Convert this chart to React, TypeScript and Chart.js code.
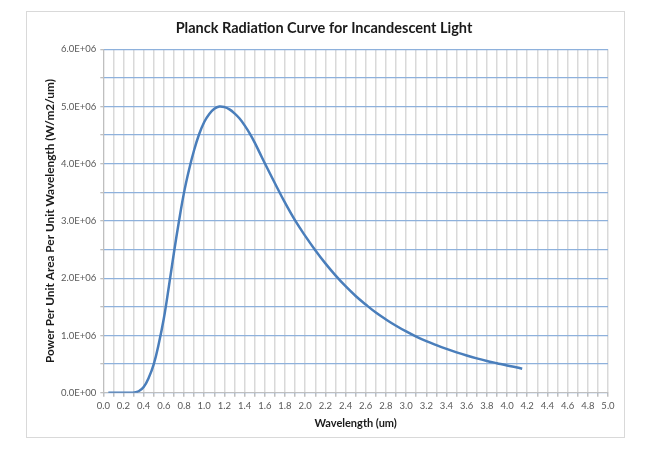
import React, { useEffect, useRef } from "react";
import { Chart, registerables } from "chart.js";

Chart.register(...registerables);

const TITLE = "Planck Radiation Curve for Incandescent Light";
const X_TITLE = "Wavelength (um)";
const Y_TITLE = "Power Per Unit Area Per Unit Wavelength (W/m2/um)";

const wavelengths = [
  0.05, 0.1, 0.15, 0.2, 0.25, 0.3, 0.35, 0.4, 0.45, 0.5, 0.55, 0.6, 0.65, 0.7, 0.75, 0.8, 0.85, 0.9, 0.95, 1.0,
  1.05, 1.1, 1.15, 1.2, 1.25, 1.3, 1.35, 1.4, 1.45, 1.5, 1.55, 1.6, 1.7, 1.8, 1.9, 2.0, 2.1, 2.2, 2.3, 2.4, 2.5,
  2.6, 2.7, 2.8, 2.9, 3.0, 3.1, 3.2, 3.3, 3.4, 3.5, 3.6, 3.7, 3.8, 3.9, 4.0, 4.1, 4.15,
];
const power = [
  0, 0, 0, 0, 0, 0.003e6, 0.025e6, 0.1e6, 0.26e6, 0.5e6, 0.86e6, 1.3e6, 1.86e6, 2.45e6, 3.0e6, 3.5e6, 3.9e6,
  4.24e6, 4.52e6, 4.73e6, 4.87e6, 4.96e6, 5.0e6, 4.99e6, 4.95e6, 4.88e6, 4.79e6, 4.67e6, 4.53e6, 4.37e6, 4.19e6,
  4.01e6, 3.66e6, 3.32e6, 3.01e6, 2.74e6, 2.49e6, 2.26e6, 2.05e6, 1.86e6, 1.69e6, 1.54e6, 1.4e6, 1.28e6, 1.17e6,
  1.07e6, 0.98e6, 0.9e6, 0.83e6, 0.765e6, 0.705e6, 0.65e6, 0.6e6, 0.555e6, 0.515e6, 0.475e6, 0.44e6, 0.42e6,
];

const X_MIN = 0;
const X_MAX = 5;
const X_STEP = 0.1;
const Y_MIN = 0;
const Y_MAX = 6e6;
const Y_STEP = 0.5e6;

const FONT = "Lato, 'Liberation Sans', sans-serif";

function sci(v: number): string {
  if (v === 0) return "0.0E+00";
  const e = Math.floor(Math.log10(Math.abs(v)));
  const m = v / Math.pow(10, e);
  const es = (e < 0 ? "-" : "+") + String(Math.abs(e)).padStart(2, "0");
  return m.toFixed(1) + "E" + es;
}

export default function App() {
  const ref = useRef<HTMLCanvasElement | null>(null);

  useEffect(() => {
    document.body.style.margin = "0";
    const canvas = ref.current;
    if (!canvas) return;
    const chart = new Chart(canvas, {
      type: "line",
      data: {
        datasets: [
          {
            data: wavelengths.map((x, i) => ({ x, y: power[i] })),
            borderColor: "#4a7ebb",
            borderWidth: 2.5,
            pointRadius: 0,
            tension: 0.4,
            fill: false,
          },
        ],
      },
      options: {
        animation: false,
        responsive: false,
        maintainAspectRatio: false,
        layout: { padding: { left: 40, right: 46, top: 11, bottom: 22.3 } },
        plugins: {
          legend: { display: false },
          tooltip: { enabled: false },
          title: {
            display: true,
            text: TITLE,
            color: "#1a1a1a",
            font: { family: FONT, size: 14.5, weight: "bold", lineHeight: 1.2 },
            padding: { top: 8.5, bottom: 12.4 },
          },
        },
        scales: {
          x: {
            type: "linear",
            min: X_MIN,
            max: X_MAX,
            afterFit: (s: any) => {
              s.height = 40;
            },
            ticks: {
              stepSize: X_STEP,
              autoSkip: false,
              maxRotation: 0,
              padding: 4,
              color: "#595959",
              font: { family: FONT, size: 9.5 },
              callback: (v: any, i: number) => (i % 2 === 0 ? Number(v).toFixed(1) : ""),
            },
            grid: {
              color: "#d9d9d9",
              lineWidth: 1.5,
              tickLength: 4,
              tickColor: "#bfbfbf",
            },
            border: { color: "#bfbfbf", width: 1 },
            title: {
              display: true,
              text: X_TITLE,
              color: "#1a1a1a",
              font: { family: FONT, size: 11, weight: "bold", lineHeight: 1.2 },
              padding: { top: 0, bottom: 3 },
            },
          },
          y: {
            type: "linear",
            min: Y_MIN,
            max: Y_MAX,
            afterFit: (s: any) => {
              s.width = 63.3;
            },
            ticks: {
              stepSize: Y_STEP,
              autoSkip: false,
              padding: 4,
              color: "#595959",
              font: { family: FONT, size: 9.5 },
              callback: (v: any) => (Math.round(Number(v)) % 1e6 === 0 ? sci(Number(v)) : ""),
            },
            grid: {
              color: "#8eb1dc",
              lineWidth: 1.3,
              tickLength: 3,
              tickColor: "#bfbfbf",
            },
            border: { color: "#bfbfbf", width: 1 },
            title: {
              display: true,
              text: Y_TITLE,
              color: "#1a1a1a",
              font: { family: FONT, size: 11.8, weight: "bold", lineHeight: 1.2 },
              padding: { top: 3.5, bottom: 0 },
            },
          },
        },
      },
    });
    return () => chart.destroy();
  }, []);

  return (
    <div style={{ position: "relative", width: 654, height: 455, background: "#fff" }}>
      <div
        style={{
          position: "absolute",
          left: 26,
          top: 11,
          width: 597,
          height: 425,
          border: "1px solid #d9d9d9",
          boxSizing: "content-box",
        }}
      />
      <canvas ref={ref} width={654} height={455} style={{ position: "absolute", left: 0, top: 0 }} />
    </div>
  );
}
